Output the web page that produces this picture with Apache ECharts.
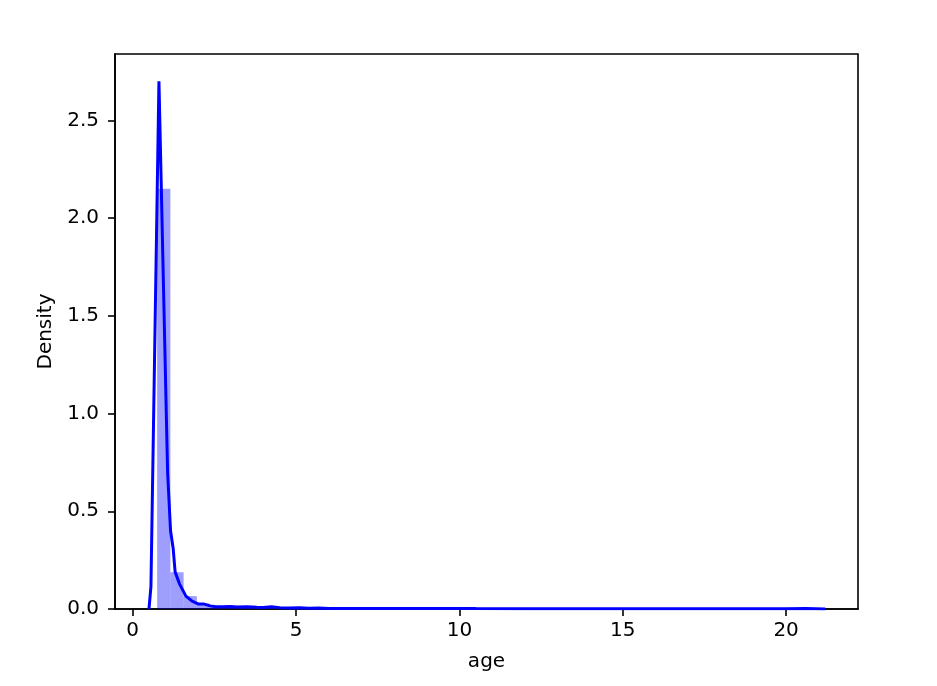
<!DOCTYPE html>
<html>
<head>
<meta charset="utf-8">
<script src="https://cdn.jsdelivr.net/npm/echarts@6/dist/echarts.min.js"></script>
<style>html,body{margin:0;padding:0;background:#fff;}#c{width:937px;height:686px;}</style>
</head>
<body>
<div id="c"></div>
<script>
// Histogram (density) bins
const binStart = 0.75;
const binWidth = 0.405;
const binHeights = [2.15, 0.188, 0.066, 0.028, 0.014, 0.012, 0.011, 0.009, 0.011, 0.006,
  0.004, 0.005, 0.004, 0.002, 0.002, 0.001, 0.001, 0.001, 0, 0,
  0, 0, 0.001, 0, 0, 0, 0, 0, 0, 0,
  0, 0, 0, 0, 0, 0, 0, 0, 0, 0,
  0, 0, 0, 0, 0, 0, 0, 0, 0, 0.001];
// KDE curve
const kdeX = [0.50, 0.56, 0.805, 1.07, 1.16, 1.24, 1.30, 1.43, 1.63, 1.82, 2.00, 2.19, 2.37, 2.55, 2.75, 2.98, 3.2, 3.5, 3.8, 4.0, 4.25, 4.5, 4.8, 5.1, 5.4, 5.7, 6.0, 6.5, 7, 8, 9, 9.9, 10.5, 12, 14, 16, 18, 20, 20.6, 21.2];
const kdeY = [0, 0.115, 2.70, 0.70, 0.40, 0.31, 0.19, 0.13, 0.066, 0.040, 0.026, 0.025, 0.016, 0.011, 0.012, 0.013, 0.010, 0.012, 0.009, 0.008, 0.012, 0.007, 0.005, 0.006, 0.004, 0.005, 0.003, 0.003, 0.002, 0.002, 0.002, 0.003, 0.002, 0.001, 0.001, 0.001, 0.001, 0.001, 0.002, 0];
const xTicks = [0, 5, 10, 15, 20];
const yTicks = [0, 0.5, 1.0, 1.5, 2.0, 2.5];

const histData = binHeights.map((h, i) => [binStart + i * binWidth, binStart + (i + 1) * binWidth, h]);
const kdeData = kdeX.map((x, i) => [x, kdeY[i]]);

const font = 'DejaVu Sans';
const fs = 20;
const chart = echarts.init(document.getElementById('c'));
chart.setOption({
  animation: false,
  grid: {left: 115, right: 79, top: 54, bottom: 77, show: true, borderColor: '#000', borderWidth: 1.6, backgroundColor: 'transparent'},
  xAxis: {
    type: 'value', min: -0.54, max: 22.2,
    name: 'age', nameLocation: 'middle', nameGap: 43,
    nameTextStyle: {fontFamily: font, fontSize: fs, color: '#000'},
    splitLine: {show: false},
    axisLine: {show: true, onZero: false, lineStyle: {color: '#000', width: 1.6}},
    axisTick: {show: true, inside: false, length: 7, lineStyle: {color: '#000', width: 1.6}, customValues: xTicks},
    axisLabel: {fontFamily: font, fontSize: fs, color: '#000', margin: 12, customValues: xTicks, formatter: v => String(v)}
  },
  yAxis: {
    type: 'value', min: 0, max: 2.84,
    name: 'Density', nameLocation: 'middle', nameGap: 52, nameRotate: 90,
    nameTextStyle: {fontFamily: font, fontSize: fs, color: '#000'},
    splitLine: {show: false},
    axisLine: {show: true, onZero: false, lineStyle: {color: '#000', width: 1.6}},
    axisTick: {show: true, inside: false, length: 7, lineStyle: {color: '#000', width: 1.6}, customValues: yTicks},
    axisLabel: {fontFamily: font, fontSize: fs, color: '#000', margin: 16, customValues: yTicks, formatter: v => v.toFixed(1)}
  },
  series: [
    {
      type: 'custom',
      data: histData,
      encode: {x: [0, 1], y: 2},
      renderItem: function (params, api) {
        const p0 = api.coord([api.value(0), api.value(2)]);
        const p1 = api.coord([api.value(1), 0]);
        return {
          type: 'rect',
          shape: {x: p0[0], y: p0[1], width: p1[0] - p0[0], height: p1[1] - p0[1]},
          style: {fill: 'rgba(0,0,255,0.38)', stroke: null}
        };
      },
      z: 1
    },
    {
      type: 'line',
      data: kdeData,
      showSymbol: false,
      symbol: 'none',
      lineStyle: {color: '#0000ff', width: 3},
      z: 2
    }
  ]
});
</script>
</body>
</html>
